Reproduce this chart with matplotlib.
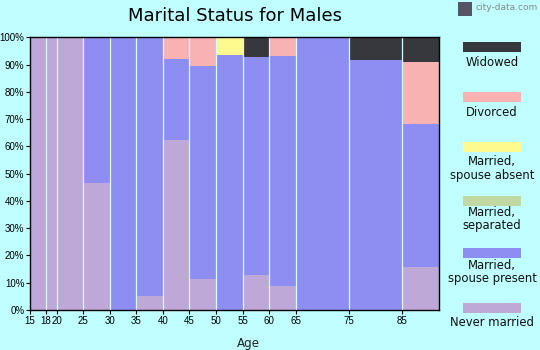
import numpy as np
import matplotlib
matplotlib.use("Agg")
import matplotlib.pyplot as plt
from matplotlib.patches import Rectangle

# age group edges (last group is 85+)
age_edges = [15, 18, 20, 25, 30, 35, 40, 45, 50, 55, 60, 65, 75, 85, 92]
tick_ages = [15, 18, 20, 25, 30, 35, 40, 45, 50, 55, 60, 65, 75, 85]

# percent of males in each age group, bottom to top
never_married  = [100, 100, 100, 46.5, 0, 5.1, 62.4, 11.4, 0, 12.8, 8.8, 0, 0, 15.8]
spouse_present = [0, 0, 0, 53.5, 100, 94.9, 29.5, 78.1, 93.4, 79.9, 84.2, 100, 91.6, 52.3]
separated      = [0, 0, 0, 0, 0, 0, 0, 0, 0, 0, 0, 0, 0, 0]
spouse_absent  = [0, 0, 0, 0, 0, 0, 0, 0, 6.6, 0, 0, 0, 0, 0]
divorced       = [0, 0, 0, 0, 0, 0, 8.1, 10.5, 0, 0, 7.0, 0, 0, 22.7]
widowed        = [0, 0, 0, 0, 0, 0, 0, 0, 0, 7.3, 0, 0, 8.4, 9.2]

series = [never_married, spouse_present, separated, spouse_absent, divorced, widowed]
labels = ["Never married", "Married,\nspouse present", "Married,\nseparated",
          "Married,\nspouse absent", "Divorced", "Widowed"]
colors = ["#bea8d8", "#8e8ef2", "#c2d8a2", "#fefa8e", "#f8b2b2", "#37383d"]

bg = "#c0ffff"
W, H = 540, 350

fig = plt.figure(figsize=(5.4, 3.5), dpi=100, facecolor=bg)
ax = fig.add_axes([30 / W, 1 - 310 / H, (439.3 - 30) / W, (310 - 37.3) / H])
ax.set_facecolor(bg)

left = np.array(age_edges[:-1], dtype=float)
width = np.diff(age_edges)
bottom = np.zeros(len(left))
for vals, col in zip(series, colors):
    vals = np.array(vals, dtype=float)
    ax.bar(left, vals, width=width, bottom=bottom, align="edge", color=col, linewidth=0)
    bottom += vals

# light separators between age groups
for e in age_edges[1:-1]:
    ax.axvline(e, color="#d0ffff", lw=0.9)

ax.set_xlim(age_edges[0], age_edges[-1])
ax.set_ylim(0, 100)
ax.set_xticks(tick_ages)
ax.set_xticklabels([str(a) for a in tick_ages])
ax.set_yticks(range(0, 101, 10))
ax.set_yticklabels([f"{v}%" for v in range(0, 101, 10)])
ax.tick_params(axis="both", length=3, width=0.8, pad=1, labelsize=7, colors="black")
for lab in ax.get_xticklabels() + ax.get_yticklabels():
    lab.set_fontfamily("Liberation Sans")
for s in ax.spines.values():
    s.set_color("black")
    s.set_linewidth(1)

# title, axis label, watermark
fig.text(234.5 / W, 1 - 21 / H, "Marital Status for Males", ha="center", va="baseline",
         fontsize=13, color="black")
fig.text(248 / W, 1 - 347 / H, "Age", ha="center", va="baseline", fontsize=8.6, color="#222222")
fig.add_artist(Rectangle((458 / W, 1 - 16 / H), 14 / W, 14 / H, transform=fig.transFigure,
                         facecolor="#555566", edgecolor="none"))
fig.text(475 / W, 1 - 8 / H, "city-data.com", ha="left", va="center", fontsize=6.5, color="#888888")

# legend, top to bottom
patch_top = [42, 92, 142, 196, 248, 303]
label_y = [62, 112, 168.5, 219, 272, 323]
for i, (lab, col) in enumerate(zip(labels[::-1], colors[::-1])):
    y0 = patch_top[i]
    fig.add_artist(Rectangle((463 / W, 1 - (y0 + 10) / H), 58 / W, 10 / H,
                             transform=fig.transFigure, facecolor=col, edgecolor="none"))
    fig.text(492 / W, 1 - label_y[i] / H, lab, ha="center", va="center", fontsize=8.4,
             linespacing=1.0, color="#111111")

fig.savefig("out.png", dpi=100, facecolor=bg)
